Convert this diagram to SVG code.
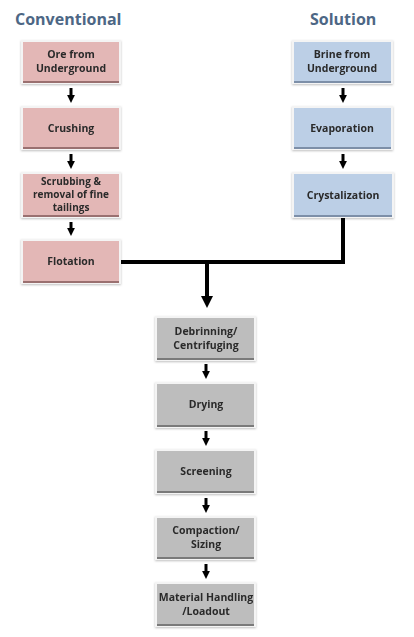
<svg xmlns="http://www.w3.org/2000/svg" width="414" height="637" viewBox="0 0 414 637">
<defs>
<style>
.title{font-family:"Open Sans","Liberation Sans",sans-serif;font-weight:bold;font-size:16px;fill:#4d6785}
.lbl{font-family:"Open Sans","Liberation Sans",sans-serif;font-weight:bold;font-size:10.5px;fill:#2a2a2a;text-anchor:middle}
.sm3{font-size:10px}
.pink{fill:#e3b7b6;stroke:#f4f4f4;stroke-width:2}
.blue{fill:#bccfe6;stroke:#f4f4f4;stroke-width:2}
.gray{fill:#bdbdbd;stroke:#f4f4f4;stroke-width:2}
.edgeP{stroke:#9a6f6f;stroke-width:2}
.edgeB{stroke:#7d8fa8;stroke-width:2}
.edgeG{stroke:#7a7a7a;stroke-width:2}
.conn{stroke:#000;stroke-width:4;fill:none}
.sm{stroke:#000;stroke-width:3;fill:none}
</style>
<marker id="ah" viewBox="0 0 10 10" refX="5" refY="5" markerWidth="3" markerHeight="3" orient="auto"><path d="M0,0 L10,5 L0,10 z" fill="#000"/></marker>
<marker id="ahs" viewBox="0 0 10 10" refX="5" refY="5" markerWidth="2.6" markerHeight="2.6" orient="auto"><path d="M0,0 L10,5 L0,10 z" fill="#000"/></marker>
<filter id="sh" x="-10%" y="-10%" width="120%" height="130%"><feDropShadow dx="0" dy="1" stdDeviation="1.2" flood-color="#000" flood-opacity="0.25"/></filter>
</defs>
<text class="title" x="15" y="25">Conventional</text>
<text class="title" x="310" y="25">Solution</text>

<g id="connectors">
<path class="conn" d="M120,262 H343 V217"/>
<path class="conn" d="M207,262 V302" marker-end="url(#ah)"/>
<path class="sm" d="M71,88 V99" marker-end="url(#ahs)"/>
<path class="sm" d="M71,154 V165" marker-end="url(#ahs)"/>
<path class="sm" d="M71,222 V232" marker-end="url(#ahs)"/>
<path class="sm" d="M343,88 V99" marker-end="url(#ahs)"/>
<path class="sm" d="M343,154 V165" marker-end="url(#ahs)"/>
<path class="sm" d="M206,364 V375" marker-end="url(#ahs)"/>
<path class="sm" d="M206,431 V442" marker-end="url(#ahs)"/>
<path class="sm" d="M206,498 V509" marker-end="url(#ahs)"/>
<path class="sm" d="M206,564 V575" marker-end="url(#ahs)"/>
</g>

<g id="ore" filter="url(#sh)"><rect class="pink" x="22" y="41" width="98" height="42"/><line class="edgeP" x1="23" y1="82" x2="119" y2="82"/><text class="lbl" x="71" y="58">Ore from</text><text class="lbl" x="71" y="72">Underground</text></g>
<g id="crushing" filter="url(#sh)"><rect class="pink" x="22" y="107" width="98" height="42"/><line class="edgeP" x1="23" y1="148" x2="119" y2="148"/><text class="lbl" x="71" y="132">Crushing</text></g>
<g id="scrubbing" filter="url(#sh)"><rect class="pink" x="22" y="173" width="98" height="44"/><line class="edgeP" x1="23" y1="216" x2="119" y2="216"/><text class="lbl sm3" x="71" y="185">Scrubbing &amp;</text><text class="lbl sm3" x="71" y="198">removal of fine</text><text class="lbl sm3" x="71" y="211">tailings</text></g>
<g id="flotation" filter="url(#sh)"><rect class="pink" x="22" y="240" width="98" height="43"/><line class="edgeP" x1="23" y1="282" x2="119" y2="282"/><text class="lbl" x="71" y="265">Flotation</text></g>

<g id="brine" filter="url(#sh)"><rect class="blue" x="293" y="41" width="99" height="42"/><line class="edgeB" x1="294" y1="82" x2="391" y2="82"/><text class="lbl" x="342" y="58">Brine from</text><text class="lbl" x="342" y="72">Underground</text></g>
<g id="evaporation" filter="url(#sh)"><rect class="blue" x="293" y="107" width="99" height="42"/><line class="edgeB" x1="294" y1="148" x2="391" y2="148"/><text class="lbl" x="342" y="132">Evaporation</text></g>
<g id="crystalization" filter="url(#sh)"><rect class="blue" x="293" y="173" width="100" height="44"/><line class="edgeB" x1="294" y1="216" x2="392" y2="216"/><text class="lbl" x="343" y="199">Crystalization</text></g>

<g id="debrinning" filter="url(#sh)"><rect class="gray" x="156" y="317" width="99" height="43"/><line class="edgeG" x1="157" y1="359" x2="254" y2="359"/><text class="lbl" x="206" y="335">Debrinning/</text><text class="lbl" x="206" y="349">Centrifuging</text></g>
<g id="drying" filter="url(#sh)"><rect class="gray" x="156" y="383" width="99" height="44"/><line class="edgeG" x1="157" y1="426" x2="254" y2="426"/><text class="lbl" x="206" y="408">Drying</text></g>
<g id="screening" filter="url(#sh)"><rect class="gray" x="156" y="450" width="99" height="43"/><line class="edgeG" x1="157" y1="492" x2="254" y2="492"/><text class="lbl" x="206" y="475">Screening</text></g>
<g id="compaction" filter="url(#sh)"><rect class="gray" x="156" y="517" width="99" height="42"/><line class="edgeG" x1="157" y1="558" x2="254" y2="558"/><text class="lbl" x="206" y="534">Compaction/</text><text class="lbl" x="206" y="548">Sizing</text></g>
<g id="material" filter="url(#sh)"><rect class="gray" x="156" y="583" width="99" height="43"/><line class="edgeG" x1="157" y1="625" x2="254" y2="625"/><text class="lbl" x="206" y="601">Material Handling</text><text class="lbl" x="206" y="615">/Loadout</text></g>
</svg>
